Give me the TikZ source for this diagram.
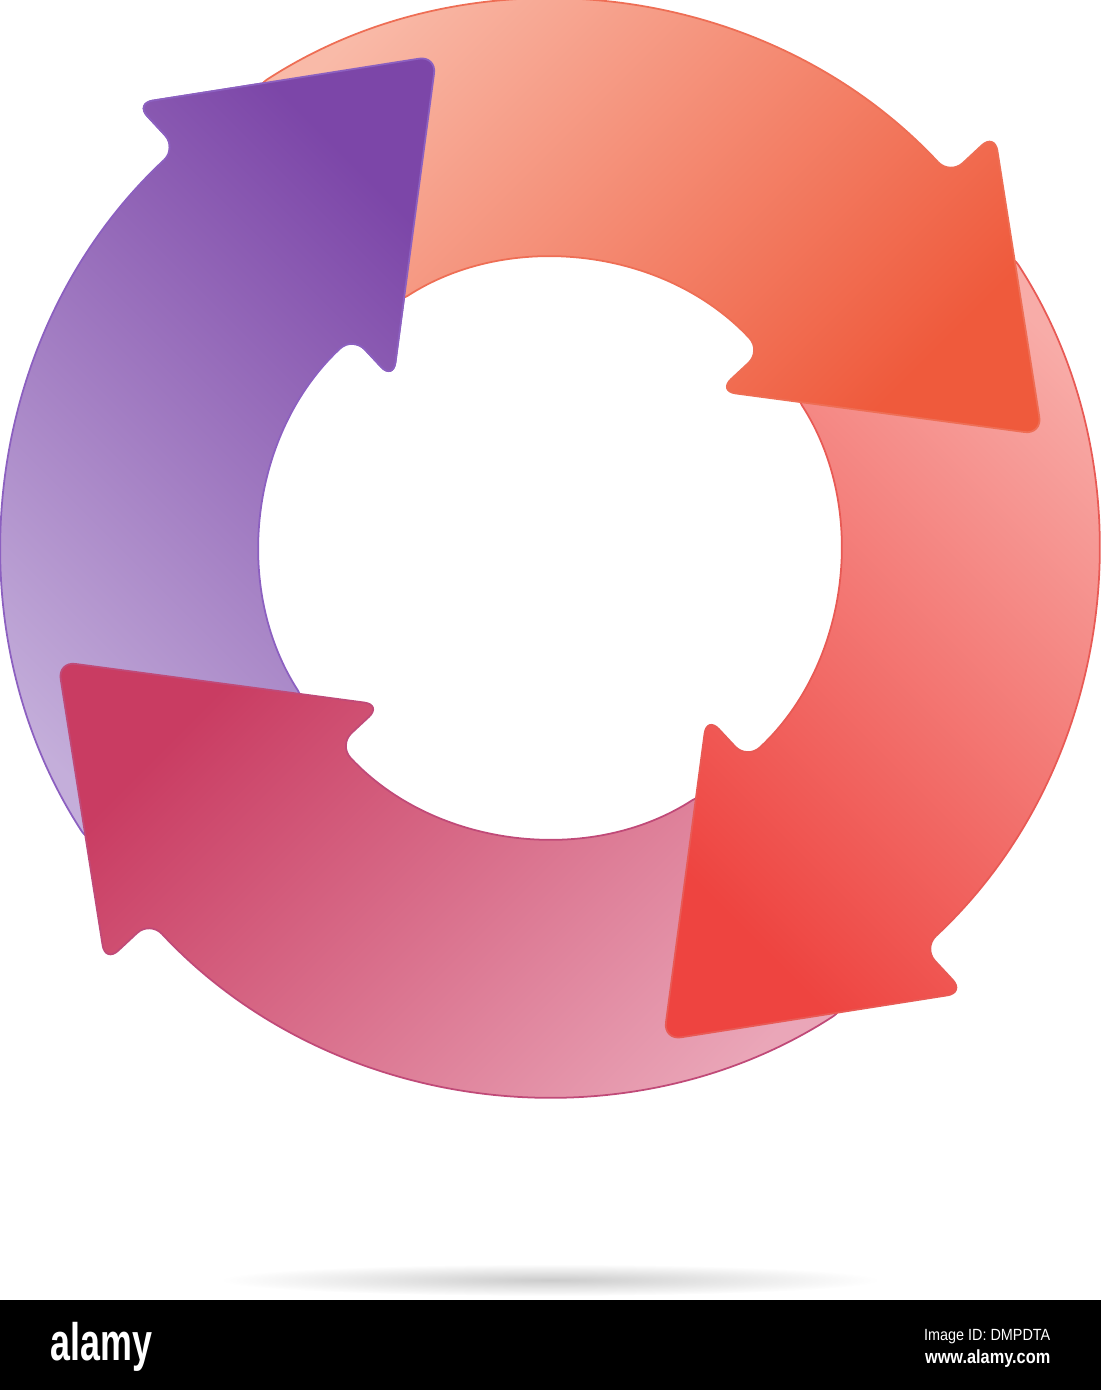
\documentclass[tikz,border=0pt]{standalone}
\usepackage{fontspec}
\setmainfont{Liberation Sans}
\usepackage{xcolor}
\usetikzlibrary{calc}
\definecolor{salmonlight}{HTML}{F9BAA8}
\definecolor{salmondark}{HTML}{EF5A3C}
\definecolor{salmonline}{HTML}{EE6E55}
\definecolor{redlight}{HTML}{F8ACA8}
\definecolor{reddark}{HTML}{EE4440}
\definecolor{redline}{HTML}{E85A55}
\definecolor{pinklight}{HTML}{EAA6B8}
\definecolor{pinkdark}{HTML}{C93C62}
\definecolor{pinkline}{HTML}{C04A78}
\definecolor{violetlight}{HTML}{C4AEDA}
\definecolor{violetdark}{HTML}{7C46A8}
\definecolor{violetline}{HTML}{8C60C0}
\tikzset{ cycle_arrow/.style = {line width=0.5pt, rounded corners=5pt} }
\tikzset{ bar_text/.style = {text=white, inner sep=0pt, anchor=base east} }
% one ring arrow, head base at angle #1, tail 80 degrees behind
\newcommand{\ringarrow}[1]{(#1+80:547) arc[start angle=#1+80, end angle=#1, radius=547]
  -- (#1:608) -- (#1-30:505) -- (#1:230) -- (#1:289)
  arc[start angle=#1, end angle=#1+80, radius=289] -- cycle}

\begin{document}
\begin{tikzpicture}[x=0.01cm, y=0.01cm]
    \useasboundingbox (0,0) rectangle (1101,1390);
    % shadow under the ring
    \shade[inner color=black!20, outer color=white] (550,110) ellipse [x radius=330, y radius=16];
    \begin{scope}[shift={(550,842)}]
        \path[cycle_arrow, draw=violetline, left color=violetlight, right color=violetdark, shading angle=135] \ringarrow{133};
        \path[cycle_arrow, draw=pinkline, left color=pinklight, right color=pinkdark, shading angle=225] \ringarrow{223};
        \path[cycle_arrow, draw=redline, left color=redlight, right color=reddark, shading angle=-45] \ringarrow{-47};
        \path[cycle_arrow, draw=salmonline, left color=salmonlight, right color=salmondark, shading angle=45] \ringarrow{43};
        % violet head again, over the salmon tail
        \begin{scope}
            \clip (0,0) -- (88:720) arc[start angle=88, end angle=134, radius=720] -- cycle;
            \path[cycle_arrow, draw=violetline, left color=violetlight, right color=violetdark, shading angle=135] \ringarrow{133};
        \end{scope}
    \end{scope}
    % bottom bar
    \fill[black] (0,0) rectangle (1101,90);
    \node [anchor=base west, text=white, inner sep=0pt] (logo) at (50,30)
        {\scalebox{0.68}[1]{\fontsize{15pt}{15pt}\selectfont\bfseries alamy}};
    \node [style=bar_text] (imageid) at (1051,50)
        {\scalebox{0.89}[1]{\fontsize{4.6pt}{5pt}\selectfont Image ID: DMPDTA}};
    \node [style=bar_text] (site) at (1051,27)
        {\scalebox{0.86}[1]{\fontsize{5.4pt}{6pt}\selectfont\bfseries www.alamy.com}};
\end{tikzpicture}
\end{document}
